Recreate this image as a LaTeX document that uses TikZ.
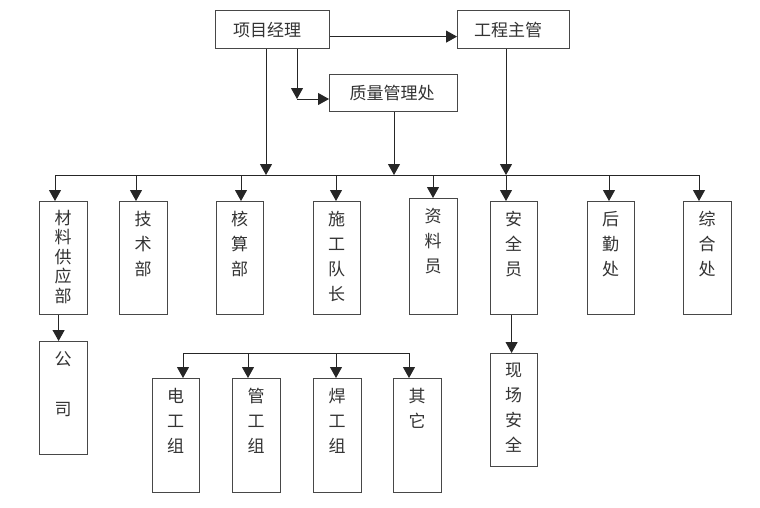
\documentclass[tikz,border=0pt]{standalone}
\usepackage{fontspec}
\newfontfamily\cjk{Noto Sans CJK SC}
\usetikzlibrary{arrows.meta}
\begin{document}
\begin{tikzpicture}[x=1pt,y=-1pt,
  box/.style={draw=black!72, line width=1.2pt, inner sep=0pt, anchor=north west},
  vtxt/.style={font=\cjk\fontsize{17}{25}\selectfont, text=black!80, align=center, inner sep=0pt, anchor=north},
  vtight/.style={vtxt, font=\cjk\fontsize{17}{19.5}\selectfont},
  vwide/.style={vtxt, font=\cjk\fontsize{17}{50}\selectfont},
  htxt/.style={font=\cjk\fontsize{17}{20}\selectfont, text=black!80, inner sep=0pt},
  arr/.style={draw=black!85, line width=1pt, -{Triangle[length=11pt,width=12pt]}},
  ln/.style={draw=black!85, line width=1pt}]
\useasboundingbox (0,0) rectangle (760,507);
\fill[white] (0,0) rectangle (760,507);
% top
\node[box, minimum width=114pt, minimum height=38pt] (pm) at (215,10) {};
\node[htxt] (pmt) at (267,30) {项目经理};
\node[box, minimum width=112pt, minimum height=38pt] (eg) at (457,10) {};
\node[htxt] (egt) at (508,30) {工程主管};
\node[box, minimum width=128pt, minimum height=37pt] (qm) at (329,74) {};
\node[htxt] (qmt) at (392,93) {质量管理处};
% level 2
\node[box, minimum width=48pt, minimum height=113pt] (cl) at (39,201) {};
\node[vtight] (clt) at (63,210) {材\\料\\供\\应\\部};
\node[box, minimum width=48pt, minimum height=113pt] (js) at (119,201) {};
\node[vtxt] (jst) at (143,211) {技\\术\\部};
\node[box, minimum width=47pt, minimum height=113pt] (hs) at (216,201) {};
\node[vtxt] (hst) at (239.5,211) {核\\算\\部};
\node[box, minimum width=47pt, minimum height=113pt] (sg) at (313,201) {};
\node[vtxt] (sgt) at (336.5,211) {施\\工\\队\\长};
\node[box, minimum width=48pt, minimum height=116pt] (zl) at (409,198) {};
\node[vtxt] (zlt) at (433,208) {资\\料\\员};
\node[box, minimum width=47pt, minimum height=113pt] (aq) at (490,201) {};
\node[vtxt] (aqt) at (513.5,211) {安\\全\\员};
\node[box, minimum width=47pt, minimum height=113pt] (hq) at (587,201) {};
\node[vtxt] (hqt) at (610.5,211) {后\\勤\\处};
\node[box, minimum width=48pt, minimum height=113pt] (zh) at (683,201) {};
\node[vtxt] (zht) at (707,211) {综\\合\\处};
% level 3
\node[box, minimum width=48pt, minimum height=113pt] (gs) at (39,341) {};
\node[vwide] (gst) at (63,351) {公\\司};
\node[box, minimum width=47pt, minimum height=114pt] (dg) at (152,378) {};
\node[vtxt] (dgt) at (175.5,388) {电\\工\\组};
\node[box, minimum width=48pt, minimum height=114pt] (gg) at (232,378) {};
\node[vtxt] (ggt) at (256,388) {管\\工\\组};
\node[box, minimum width=48pt, minimum height=114pt] (hg) at (313,378) {};
\node[vtxt] (hgt) at (337,388) {焊\\工\\组};
\node[box, minimum width=48pt, minimum height=114pt] (qt) at (393,378) {};
\node[vtxt] (qtt) at (417,388) {其\\它};
\node[box, minimum width=47pt, minimum height=113pt] (xc) at (490,353) {};
\node[vtxt] (xct) at (513.5,363) {现\\场\\安\\全};
% connectors top
\draw[arr] ([yshift=-7pt]pm.east) -- ([yshift=-7pt]eg.west);
\coordinate (k1) at (297,99);
\draw[arr] (pm.south -| k1) -- (k1);
\draw[arr] (k1) -- (k1 -| qm.west);
% main bus
\coordinate (bl) at (55,175);
\coordinate (br) at (699,175);
\draw[ln] (bl) -- (br);
\coordinate (t1) at (266,175);
\coordinate (t2) at (394,175);
\coordinate (t3) at (506,175);
\draw[arr] (pm.south -| t1) -- (t1);
\draw[arr] (qm.south -| t2) -- (t2);
\draw[arr] (eg.south -| t3) -- (t3);
\foreach \x/\n in {55/cl,136/js,241/hs,336/sg,433/zl,506/aq,609/hq,699/zh}{
  \coordinate (b\n) at (\x,175);
  \draw[arr] (b\n) -- (b\n |- \n.north);
}
\draw[arr] ([xshift=-5pt]cl.south) -- ([xshift=-5pt]gs.north);
\draw[arr] ([xshift=-2.5pt]aq.south) -- ([xshift=-2.5pt]xc.north);
% sub bus
\coordinate (sl) at (183,353);
\coordinate (sr) at (409,353);
\draw[ln] (sl) -- (sr);
\foreach \x/\n in {183/dg,248/gg,336/hg,409/qt}{
  \coordinate (s\n) at (\x,353);
  \draw[arr] (s\n) -- (s\n |- \n.north);
}
\end{tikzpicture}
\end{document}
